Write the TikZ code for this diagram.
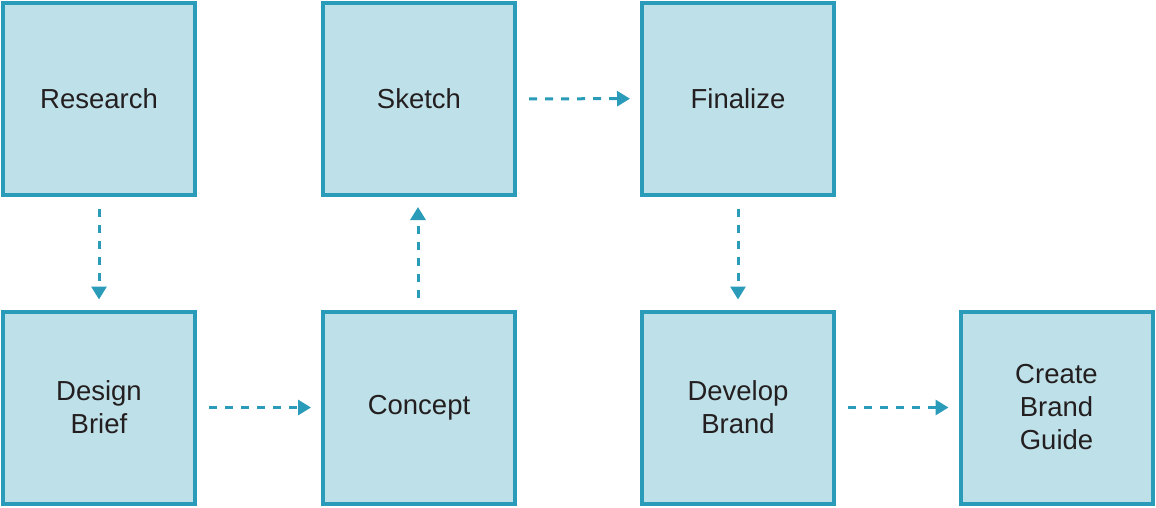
\documentclass[tikz,border=0pt]{standalone}
\usepackage{fontspec}
\setmainfont{Liberation Sans}
\usetikzlibrary{arrows.meta}
\definecolor{boxfill}{HTML}{BEE0E8}
\definecolor{boxline}{HTML}{2A9BB8}
\definecolor{txt}{HTML}{231F20}
\begin{document}
\begin{tikzpicture}[x=1pt,y=-1pt,
  stepbox/.style={draw=boxline, fill=boxfill, line width=4pt, minimum width=192pt, minimum height=192pt, inner sep=0pt, align=center, text=txt, font=\fontsize{27.5}{33}\selectfont},
  flow/.style={draw=boxline, line width=3pt, dash pattern=on 8pt off 8pt, -{Triangle[length=13pt,width=15pt]}, shorten <=12pt, shorten >=10pt}]
\useasboundingbox (0,0) rectangle (1156,507);
\node[stepbox] (research) at (99,99) {Research};
\node[stepbox] (sketch) at (419,99) {Sketch};
\node[stepbox] (finalize) at (738,98.5) {Finalize};
\node[stepbox] (brief) at (99,407.5) {Design\\Brief};
\node[stepbox] (concept) at (419,407.5) {Concept};
\node[stepbox] (develop) at (738,407.5) {Develop\\Brand};
\node[stepbox] (guide) at (1056.5,407.5) {Create\\Brand\\Guide};
\draw[flow] (research) -- (brief);
\draw[flow] (brief) -- (concept);
\draw[flow] (concept.north -| 418,0) -- (sketch.south -| 418,0);
\draw[flow] (sketch) -- (finalize);
\draw[flow] (finalize) -- (develop);
\draw[flow] (develop) -- (guide);
\end{tikzpicture}
\end{document}
